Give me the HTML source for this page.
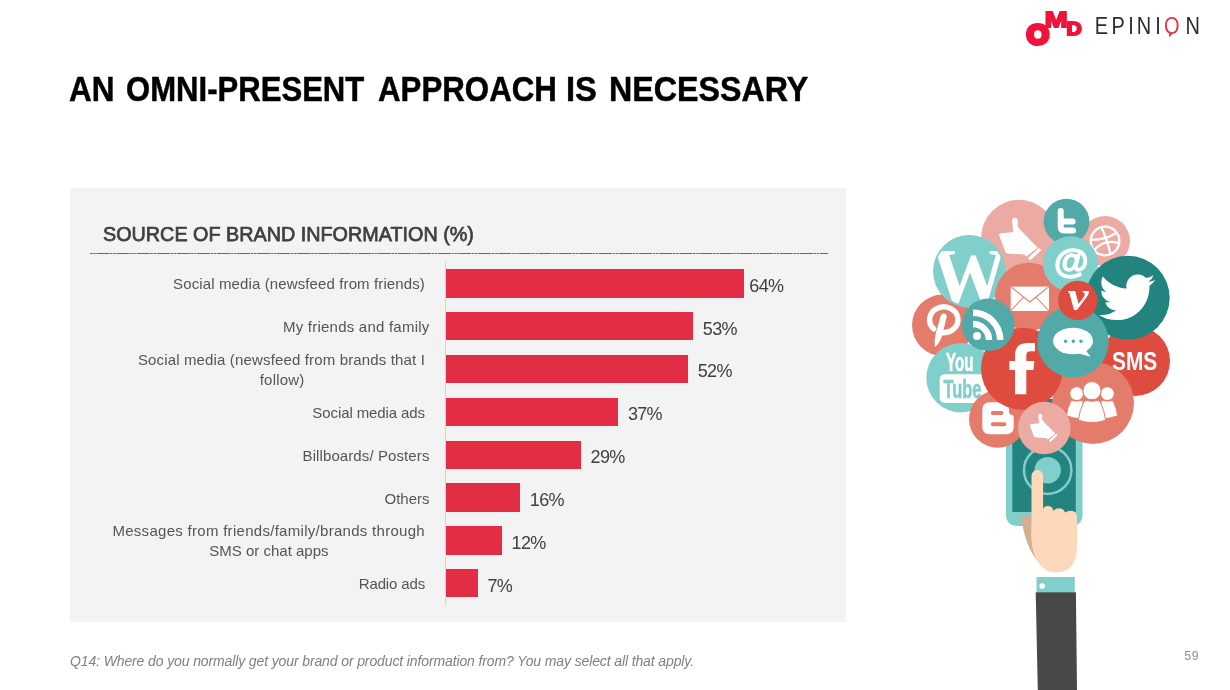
<!DOCTYPE html>
<html lang="en">
<head>
<meta charset="utf-8">
<title>An omni-present approach is necessary</title>
<style>
html,body{margin:0;padding:0;}
body{width:1230px;height:690px;position:relative;overflow:hidden;background:#fff;font-family:"Liberation Sans","DejaVu Sans",sans-serif;color:#404040;}
.abs{position:absolute;white-space:nowrap;}
#title span{position:absolute;top:68.5px;white-space:pre;font-size:35px;line-height:40px;font-weight:bold;color:#000;transform-origin:0 50%;-webkit-text-stroke:.5px #000;}
#panel{left:70px;top:188px;width:776px;height:433.5px;background:#f3f3f3;}
#sub{left:102.5px;top:221.5px;font-size:21px;line-height:24px;font-weight:normal;color:#3f3f3f;transform-origin:0 50%;transform:scaleX(.9415);-webkit-text-stroke:.75px #3f3f3f;}
#rule{left:89.7px;top:252px;}
#axis{left:445px;top:262px;width:1px;height:342.5px;background:#d4d4d4;}
.bar{position:absolute;left:446px;height:28.3px;background:#e22d44;}
.val{position:absolute;font-size:18px;line-height:20px;color:#404040;white-space:nowrap;letter-spacing:-.65px;}
.lab{position:absolute;white-space:nowrap;font-size:15px;line-height:20px;color:#555;}
#foot{left:70px;top:652.3px;font-size:14px;line-height:18px;font-style:italic;color:#808080;letter-spacing:-.12px;}
#pg{left:1184.3px;top:648.5px;font-size:12.3px;line-height:14px;color:#8c9096;letter-spacing:.7px;}
</style>
</head>
<body>
<div id="title"><span id="tw0" style="left:69.3px;transform:scaleX(0.898)">AN </span><span id="tw1" style="left:126.0px;transform:scaleX(0.888)">OMNI-PRESENT </span><span id="tw2" style="left:378.3px;transform:scaleX(0.893)">APPROACH </span><span id="tw3" style="left:565.7px;transform:scaleX(0.934)">IS </span><span id="tw4" style="left:609.1px;transform:scaleX(0.920)">NECESSARY</span></div>
<div id="panel" class="abs"></div>
<div id="sub" class="abs">SOURCE OF BRAND INFORMATION (%)</div>
<svg id="rule" class="abs" width="738" height="3" viewBox="0 0 738 3"><line x1="0" y1="1.5" x2="738" y2="1.5" stroke="#686868" stroke-width="1" stroke-dasharray="2.5 .7 2.5 .7 13 .7"/></svg>
<div id="axis" class="abs"></div>

<div class="bar" id="b1" style="top:269.25px;width:298.0px"></div>
<div class="bar" id="b2" style="top:312.08px;width:246.9px"></div>
<div class="bar" id="b3" style="top:354.91px;width:242.1px"></div>
<div class="bar" id="b4" style="top:397.74px;width:172.2px"></div>
<div class="bar" id="b5" style="top:440.57px;width:134.9px"></div>
<div class="bar" id="b6" style="top:483.40px;width:74.2px"></div>
<div class="bar" id="b7" style="top:526.23px;width:55.6px"></div>
<div class="bar" id="b8" style="top:569.06px;width:32.3px"></div>

<div class="val" id="v1" style="left:749.3px;top:276.35px">64%</div>
<div class="val" id="v2" style="left:702.8px;top:319.18px">53%</div>
<div class="val" id="v3" style="left:697.7px;top:361.41px">52%</div>
<div class="val" id="v4" style="left:627.9px;top:404.24px">37%</div>
<div class="val" id="v5" style="left:590.6px;top:447.07px">29%</div>
<div class="val" id="v6" style="left:529.8px;top:489.90px">16%</div>
<div class="val" id="v7" style="left:511.6px;top:533.33px">12%</div>
<div class="val" id="v8" style="left:487.5px;top:576.16px">7%</div>

<div class="lab" id="l1" style="top:274px;right:805px;letter-spacing:.12px">Social media (newsfeed from friends)</div>
<div class="lab" id="l2" style="top:317px;right:800.5px;letter-spacing:.23px">My friends and family</div>
<div class="lab" id="l3a" style="top:350px;right:805px;letter-spacing:.15px">Social media (newsfeed from brands that I</div>
<div class="lab" id="l3b" style="top:369.5px;right:925.5px;letter-spacing:.2px">follow)</div>
<div class="lab" id="l4" style="top:403px;right:805px;letter-spacing:-.1px">Social media ads</div>
<div class="lab" id="l5" style="top:446px;right:800.5px;letter-spacing:.1px">Billboards/ Posters</div>
<div class="lab" id="l6" style="top:488.5px;right:800.5px">Others</div>
<div class="lab" id="l7a" style="top:521.3px;right:805px;letter-spacing:.29px">Messages from friends/family/brands through</div>
<div class="lab" id="l7b" style="top:540.5px;right:901.5px">SMS or chat apps</div>
<div class="lab" id="l8" style="top:574px;right:805px;letter-spacing:-.15px">Radio ads</div>

<div id="foot" class="abs">Q14: Where do you normally get your brand or product information from? You may select all that apply.</div>
<div id="pg" class="abs">59</div>
<svg id="illus" class="abs" style="left:0;top:0" width="1230" height="690" viewBox="0 0 1230 690">
<defs>
<clipPath id="wpclip"><circle cx="969.3" cy="271.3" r="34.4"/></clipPath>
<clipPath id="ytclip"><circle cx="961" cy="377.7" r="34.7"/></clipPath>
</defs>
<!-- logo -->
<g id="omd" font-family="'Liberation Sans',sans-serif" font-weight="bold" fill="#ee143c" stroke="#ee143c" text-anchor="middle">
<text x="1037.8" y="43.5" font-size="28.5" stroke-width="4">O</text>
<text transform="translate(1056.2 27.4) scale(1.23 1)" font-size="22.3" stroke-width="1.8">M</text>
<text transform="translate(1074.2 35) scale(1.1 1)" font-size="19.2" stroke-width="2">D</text>
</g>
<g transform="translate(1096 34) scale(.861 1)" font-family="'Liberation Sans',sans-serif" font-size="23.2" fill="#2b2b2b">
<text id="epi" x="-1.6 17.9 37.6 47.3 68.9 79.1 103.9" y="0">EPINI<tspan fill="#dc3a4b">O</tspan>N</text>
</g>
<path d="M1168.8 33.4L1172.8 33.4L1169.4 37.6Z" fill="#dc3a4b"/>
<!-- phone -->
<path d="M1006 399H1082.5V514Q1082.5 526 1070.5 526H1018Q1006 526 1006 514Z" fill="#80cfcb"/>
<rect x="1012.3" y="399" width="63.5" height="113" fill="#23847f"/>
<circle cx="1047.7" cy="470.2" r="23.7" fill="none" stroke="#80cfcb" stroke-width="2.5"/>
<circle cx="1047.7" cy="470.2" r="13.2" fill="#80cfcb"/>
<!-- big like -->
<circle cx="1019" cy="237.7" r="37.9" fill="#ebaba2"/>
<g fill="#fff" id="thumbBig">
<path d="M1012.2 222.5Q1011.4 218 1015 217.8Q1018.4 217.8 1017.8 222L1017.6 225.5Q1018.6 228 1021 230.5L1037.7 247.7L1026.3 256.5L1024.3 254.6L1007.5 253.4Q1005.8 253.2 1005.2 251.5L999.2 235.6Q998.7 233.9 1000.5 233.6L1013.3 232Z"/>
<path d="M1039 248L1041.3 250.3L1030.3 260.3L1028 258Z"/>
</g>
<!-- dribbble -->
<circle cx="1105" cy="241" r="25" fill="#ebaba2"/>
<g fill="none" stroke="#fff" stroke-width="2.3" stroke-linecap="round">
<circle cx="1105" cy="241" r="14.3"/>
<path d="M1101.5 227.8Q1106.5 238 1110.5 254"/>
<path d="M1091.2 239.8Q1106 240 1116.5 232.8"/>
<path d="M1094 250.5Q1104 238.5 1119.2 243.2"/>
</g>
<!-- SMS -->
<circle cx="1135" cy="361" r="35" fill="#dd4c3f"/>
<text x="1112" y="370.4" font-family="'Liberation Sans',sans-serif" font-weight="bold" font-size="26" fill="#fff" textLength="45.3" lengthAdjust="spacingAndGlyphs">SMS</text>
<!-- pinterest -->
<circle cx="942.7" cy="325.3" r="30.7" fill="#e47c6b"/>
<path d="M933.6 328.8A14.2 12.9 0 1 1 941.3 332.5" fill="none" stroke="#fff" stroke-width="5.4" stroke-linecap="round"/>
<path d="M940.4 317Q941.3 312.9 944.7 313.7Q947.3 314.6 946.5 317.8L942.2 335.5Q939.6 343.5 934.8 347.3Q934 340 935.8 333Z" fill="#fff"/>
<!-- youtube -->
<circle cx="961" cy="377.7" r="34.7" fill="#80cfcb"/>
<g clip-path="url(#ytclip)">
<text x="946" y="371" font-family="'Liberation Sans',sans-serif" font-weight="bold" font-size="26.5" fill="#fff" stroke="#fff" stroke-width=".7" textLength="27.4" lengthAdjust="spacingAndGlyphs">You</text>
<rect x="939.7" y="374.3" width="50" height="28.7" rx="5" fill="#fff"/>
<text x="943.5" y="397.7" font-family="'Liberation Sans',sans-serif" font-weight="bold" font-size="25" fill="#80cfcb" stroke="#80cfcb" stroke-width=".6" textLength="38" lengthAdjust="spacingAndGlyphs">Tube</text>
</g>
<!-- wordpress -->
<circle cx="969.3" cy="271.3" r="36.3" fill="#80cfcb"/>
<g clip-path="url(#wpclip)"><text x="969.3" y="303.8" text-anchor="middle" font-family="'Liberation Serif',serif" font-weight="bold" font-size="80" fill="#fff" textLength="75" lengthAdjust="spacingAndGlyphs">W</text></g>
<!-- mail -->
<circle cx="1029" cy="296.7" r="34" fill="#e47c6b"/>
<rect x="1010.7" y="286.6" width="38.3" height="24.4" fill="#fff"/>
<path d="M1010.7 286.6L1029.8 302L1049 286.6M1010.7 311L1023.5 297M1049 311L1036 297" fill="none" stroke="#e47c6b" stroke-width="1.1"/>
<!-- twitter t -->
<circle cx="1066.5" cy="221.6" r="22.9" fill="#52aaa8"/>
<path d="M1060.7 211V226.5Q1060.7 230.6 1065 230.6H1073M1060.7 221.6H1072.6" fill="none" stroke="#fff" stroke-width="6" stroke-linecap="round" stroke-linejoin="round"/>
<!-- at -->
<circle cx="1070.5" cy="263.8" r="27.5" fill="#80cfcb"/>
<text x="1071.3" y="273.3" text-anchor="middle" font-family="'Liberation Sans',sans-serif" font-weight="bold" font-size="35.5" fill="#fff" stroke="#fff" stroke-width="1.3">@</text>
<!-- twitter bird -->
<circle cx="1127.7" cy="297.7" r="42" fill="#23847f"/>
<path transform="translate(1099 269.2) scale(2.34)" fill="#fff" d="M23.953 4.57a10 10 0 01-2.825.775 4.958 4.958 0 002.163-2.723c-.951.555-2.005.959-3.127 1.184a4.92 4.92 0 00-8.384 4.482C7.69 8.095 4.067 6.13 1.64 3.162a4.822 4.822 0 00-.666 2.475c0 1.71.87 3.213 2.188 4.096a4.904 4.904 0 01-2.228-.616v.06a4.923 4.923 0 003.946 4.827 4.996 4.996 0 01-2.212.085 4.936 4.936 0 004.604 3.417 9.867 9.867 0 01-6.102 2.105c-.39 0-.779-.023-1.17-.067a13.995 13.995 0 007.557 2.209c9.053 0 13.998-7.496 13.998-13.985 0-.21 0-.42-.015-.63A9.935 9.935 0 0024 4.59z"/>
<!-- group -->
<circle cx="1093" cy="402.9" r="41" fill="#e47c6b"/>
<g fill="#fff" stroke="#e47c6b" stroke-width="1">
<circle cx="1076.6" cy="393.6" r="6.9"/><circle cx="1107.4" cy="393.6" r="6.9"/>
<path d="M1070.5 401.8Q1071.5 400.3 1073 400.6Q1076.6 401.8 1080.2 400.6Q1082.6 400.3 1083.2 402L1082.5 419Q1073.5 418.6 1066.3 415.8Q1067.5 407.5 1070.5 401.8Z"/>
<path d="M1100.8 402Q1101.4 400.3 1103.8 400.6Q1107.4 401.8 1111 400.6Q1112.5 400.3 1113.5 401.8Q1116.5 407.5 1117.7 415.8Q1110.5 418.6 1101.5 419Z"/>
<circle cx="1092" cy="390.7" r="9.1"/>
<path d="M1083.6 402.5Q1084.6 400.2 1087 400.6Q1092 402 1097 400.6Q1099.4 400.2 1100.4 402.5Q1104.4 410 1105.6 420.2Q1092 425 1078.4 420.2Q1079.6 410 1083.6 402.5Z"/>
</g>
<!-- blogger -->
<circle cx="997.7" cy="419" r="28.7" fill="#e47c6b"/>
<path d="M989.8 402.3H1001.5Q1009 402.3 1009 409.8V411.8Q1009 414.8 1011.5 414.8Q1013.7 414.8 1013.7 417.2V426.8Q1013.7 434.3 1006.2 434.3H989.8Q982.3 434.3 982.3 426.8V409.8Q982.3 402.3 989.8 402.3Z" fill="#fff"/>
<path d="M992.8 413H1001.5M992.8 424.3H1004.3" stroke="#e47c6b" stroke-width="4" stroke-linecap="round"/>
<!-- facebook -->
<circle cx="1022" cy="368.7" r="41" fill="#dd4c3f"/>
<path d="M1015 394.3V370H1009.4V361H1015V355.5Q1015 343 1027.5 343H1035V351.2H1030.5Q1026.3 351.2 1026.3 355.5V361H1034.4L1033.4 370H1026.3V394.3Z" fill="#fff"/>
<!-- rss -->
<circle cx="988.3" cy="324.8" r="26.3" fill="#52aaa8"/>
<circle cx="977" cy="336" r="4" fill="#fff"/>
<path d="M973 324A16 16 0 0 1 989 340M973 312.8A27.2 27.2 0 0 1 1000.2 340" fill="none" stroke="#fff" stroke-width="6.5"/>
<!-- chat -->
<circle cx="1073" cy="341.8" r="35.7" fill="#52aaa8"/>
<ellipse cx="1073" cy="341" rx="20" ry="13.3" fill="#fff"/>
<path d="M1078.5 353.5L1090.7 356.8L1085 349.5Z" fill="#fff"/>
<circle cx="1065.6" cy="341.3" r="1.7" fill="#52aaa8"/><circle cx="1073.3" cy="341.3" r="1.7" fill="#52aaa8"/><circle cx="1081" cy="341.3" r="1.7" fill="#52aaa8"/>
<!-- vimeo -->
<circle cx="1077.8" cy="300.4" r="19.7" fill="#dd4c3f"/>
<text x="1078" y="309.6" text-anchor="middle" font-family="'Liberation Serif',serif" font-weight="bold" font-style="italic" font-size="40" fill="#fff" textLength="21" lengthAdjust="spacingAndGlyphs">v</text>
<!-- small like -->
<circle cx="1044.3" cy="428" r="26.3" fill="#ebaba2"/>
<g fill="#fff" transform="translate(1040.3 414) scale(.66) translate(-1015 -218)">
<path d="M1012.2 222.5Q1011.4 218 1015 217.8Q1018.4 217.8 1017.8 222L1017.6 225.5Q1018.6 228 1021 230.5L1037.7 247.7L1026.3 256.5L1024.3 254.6L1007.5 253.4Q1005.8 253.2 1005.2 251.5L999.2 235.6Q998.7 233.9 1000.5 233.6L1013.3 232Z"/>
<path d="M1039 248L1041.3 250.3L1030.3 260.3L1028 258Z"/>
</g>
<!-- hand -->
<path d="M1021 514.5L1031.6 516.5V535Q1031.6 546 1034.5 554Q1036.5 560 1040 564Q1024 546 1021 514.5Z" fill="#d4ae92"/>
<path d="M1031.5 475.8A5.8 5.8 0 0 1 1043.1 475.8V509.5Q1043.6 506 1047.8 506Q1052.2 506 1053.4 510.8Q1055.2 508.3 1059.4 508.3Q1063.8 508.3 1065.2 513Q1066.8 510.8 1071 510.8Q1077 511.2 1077 518V546Q1076.5 572.4 1056 572.4Q1040.5 572.4 1034.5 554Q1031.5 546 1031.5 535Z" fill="#fed8ba"/>
<!-- cuff & sleeve -->
<rect x="1036.5" y="577" width="38.3" height="15.5" fill="#80cfcb"/>
<circle cx="1042.2" cy="586" r="2.8" fill="#fff"/>
<path d="M1035.7 592.2H1075.9L1077 690H1037.8Z" fill="#484848"/>
</svg>
</body>
</html>
